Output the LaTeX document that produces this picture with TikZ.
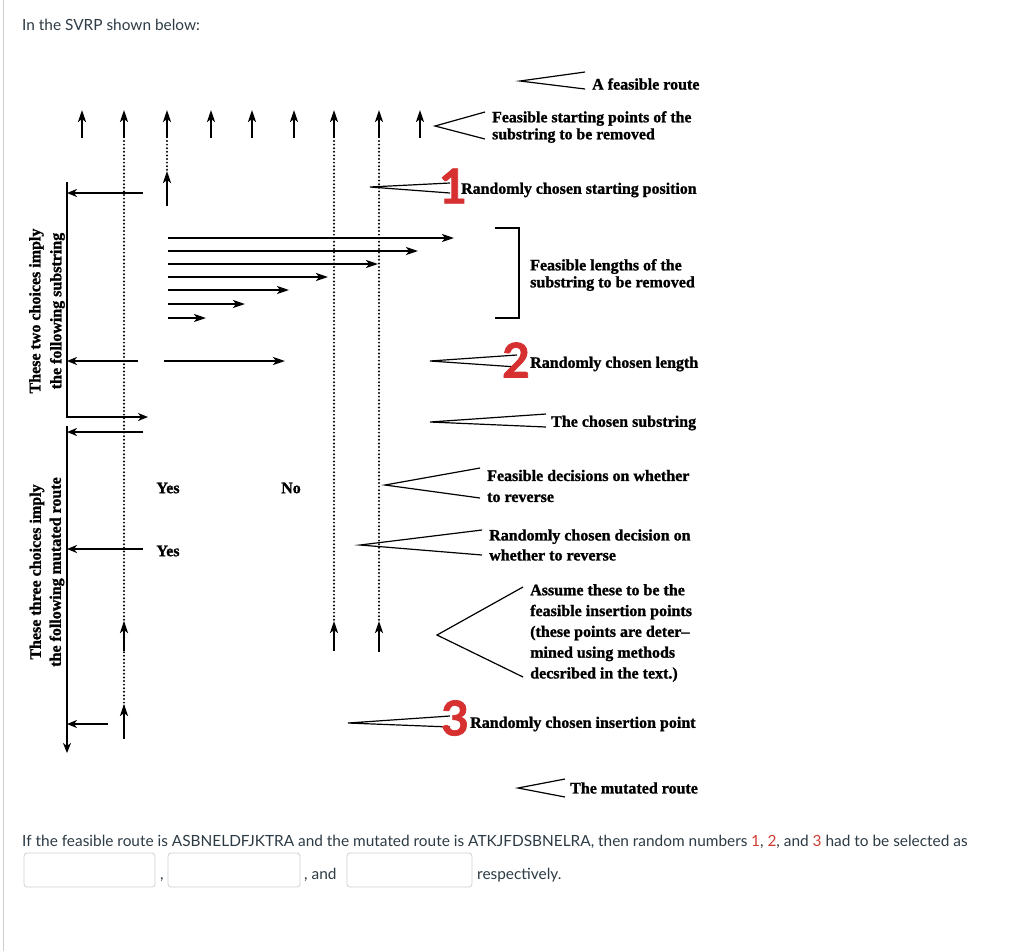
\documentclass[tikz,border=0pt]{standalone}
\usepackage{fontspec}
\setmainfont{Liberation Serif}[BoldFeatures={FakeBold=1.2}]
\newfontfamily\latofont{Lato}
\newfontfamily\latonum{Lato}[BoldFeatures={FakeBold=1.5}]
\usetikzlibrary{arrows.meta}
\definecolor{numred}{RGB}{214,48,48}
\definecolor{qred}{RGB}{205,62,52}
\definecolor{qtext}{RGB}{45,59,69}
\definecolor{boxgray}{RGB}{205,209,213}
\definecolor{edgegray}{RGB}{205,205,205}
\begin{document}
\begin{tikzpicture}[x=1pt,y=-1pt,
  arr/.style={line width=2.1pt,-{Stealth[length=12pt,width=8pt,inset=3pt]}},
  sarr/.style={line width=1.8pt,-{Stealth[length=10pt,width=8pt,inset=3pt]}},
  dotline/.style={line width=2.2pt,line cap=round,dash pattern=on 0pt off 3.6pt},
  wedge/.style={line width=1.2pt},
  lbl/.style={font=\bfseries\fontsize{16}{17}\selectfont,anchor=west,inner sep=0pt,align=left},
  bignum/.style={font=\latonum\bfseries\fontsize{48}{48}\selectfont,text=numred,inner sep=0pt},
  qtxt/.style={font=\latofont\fontsize{15.4}{18}\selectfont,text=qtext,anchor=base west,inner sep=0pt},
  ansbox/.style={draw=boxgray,line width=0.8pt,rounded corners=3pt}
]
\useasboundingbox (0,0) rectangle (1024,951);
\fill[white] (0,0) rectangle (1024,951);
\draw[edgegray,line width=1pt] (3,0) -- (3,951);

% header
\node[qtxt] (head) at (22,30) {In the SVRP shown below:};

% top row of feasible starting points
\foreach \x [count=\i] in {82,124,167,211,252,294,334,379,420}{
  \coordinate (t\i) at (\x,138);
  \coordinate (h\i) at (\x,110);
  \draw[arr] (t\i) -- (h\i);
}

% dotted lines
\coordinate (d2a) at (124,141); \coordinate (d2b) at (124,708);
\coordinate (d3a) at (167,141); \coordinate (d3b) at (167,172);
\coordinate (d7a) at (334,141); \coordinate (d7b) at (334,622);
\coordinate (d8a) at (379,141); \coordinate (d8b) at (379,622);
\draw[dotline] (d2a) -- (d2b);
\draw[dotline] (d3a) -- (d3b);
\draw[dotline] (d7a) -- (d7b);
\draw[dotline] (d8a) -- (d8b);

% chosen start arrow
\coordinate (cs0) at (167,206); \coordinate (cs1) at (167,171);
\draw[arr] (cs0) -- (cs1);

% feasible lengths arrows
\foreach \y/\e [count=\i] in {238/454,251/418,264/378,277/328,290/289,304/245,318/206}{
  \coordinate (ls\i) at (168,\y);
  \coordinate (le\i) at (\e,\y);
  \draw[arr] (ls\i) -- (le\i);
}
% chosen length arrow
\coordinate (cl0) at (164,361); \coordinate (cl1) at (285,361);
\draw[arr] (cl0) -- (cl1);

% left bracket 1
\coordinate (b1top) at (67,182); \coordinate (b1bot) at (67,417); \coordinate (b1end) at (148,417);
\draw[sarr] (b1top) -- (b1bot) -- (b1end);
\coordinate (a1s) at (143,193); \coordinate (a1e) at (67,193);
\draw[sarr] (a1s) -- (a1e);
\coordinate (a2s) at (138,361); \coordinate (a2e) at (67,361);
\draw[sarr] (a2s) -- (a2e);

% left bracket 2
\coordinate (b2top) at (67,426); \coordinate (b2bot) at (67,753);
\draw[sarr] (b2top) -- (b2bot);
\coordinate (a3s) at (143,432); \coordinate (a3e) at (67,432);
\draw[sarr] (a3s) -- (a3e);
\coordinate (a4s) at (143,549); \coordinate (a4e) at (67,549);
\draw[sarr] (a4s) -- (a4e);
\coordinate (a5s) at (108,724); \coordinate (a5e) at (67,724);
\draw[sarr] (a5s) -- (a5e);

% insertion point arrows
\foreach \x/\t/\b [count=\i] in {124/621/651,334/621/651,379/621/652,124/704/739}{
  \coordinate (ib\i) at (\x,\b); \coordinate (it\i) at (\x,\t);
  \draw[arr] (ib\i) -- (it\i);
}

% vertical texts
\node[lbl,anchor=center,align=center,rotate=90,font=\bfseries\fontsize{16}{21}\selectfont] (v1) at (47,311)
  {These two choices imply\\the following substring};
\node[lbl,anchor=center,align=center,rotate=90,font=\bfseries\fontsize{16}{20}\selectfont] (v2) at (47,572)
  {These three choices imply\\the following mutated route};

% yes / no
\node[lbl,anchor=center] (yes1) at (168,488) {Yes};
\node[lbl,anchor=center] (no1) at (291,488) {No};
\node[lbl,anchor=center] (yes2) at (168,551) {Yes};

% labels with wedges
\node[lbl] (Lroute) at (592,84) {A feasible route};
\draw[wedge] (585,72) -- (520,81) -- (585,89);

\node[lbl,font=\bfseries\fontsize{15.8}{17}\selectfont] (Lstart) at (492,127) {Feasible starting points of the\\substring to be removed};
\draw[wedge] (485,112) -- (435,126) -- (485,139);

\draw[wedge] (450,183) -- (370,187) -- (450,193);
\node[bignum] (n1) at (453,186) {1};
\node[lbl,font=\bfseries\fontsize{15.9}{17}\selectfont] (Lrstart) at (461,190) {Randomly chosen starting position};

\draw[line width=1.6pt] (495,228) -- (519,228) -- (519,318) -- (495,318);
\node[lbl] (Llen) at (530,275) {Feasible lengths of the\\substring to be removed};

\draw[wedge] (517,355) -- (430,361) -- (517,367);
\node[bignum] (n2) at (516,360) {2};
\node[lbl] (Lrlen) at (530,364) {Randomly chosen length};

\draw[wedge] (546,414) -- (430,422) -- (546,427);
\node[lbl] (Lsub) at (551,423) {The chosen substring};

\draw[wedge] (480,468) -- (385,485) -- (480,498);
\node[lbl,font=\bfseries\fontsize{16}{21}\selectfont] (Ldec) at (487,486) {Feasible decisions on whether\\to reverse};

\draw[wedge] (482,530) -- (360,545) -- (482,555);
\node[lbl,font=\bfseries\fontsize{16}{20}\selectfont] (Lrdec) at (489,545) {Randomly chosen decision on\\whether to reverse};

\draw[wedge] (523,587) -- (437,635) -- (523,677);
\node[lbl,font=\bfseries\fontsize{16}{20.8}\selectfont] (Lins) at (530,633) {Assume these to be the\\feasible insertion points\\(these points are deter--\\mined using methods\\decsribed in the text.)};

\draw[wedge] (450,716) -- (348,723) -- (450,727);
\node[bignum] (n3) at (455,718) {3};
\node[lbl] (Lrins) at (470,724) {Randomly chosen insertion point};

\draw[wedge] (565,779) -- (518,788) -- (565,797);
\node[lbl] (Lmut) at (570,788) {The mutated route};

% question
\node[qtxt] (q) at (22,846) {If the feasible route is ASBNELDFJKTRA and the mutated route is ATKJFDSBNELRA, then random numbers \textcolor{qred}{1}, \textcolor{qred}{2}, and \textcolor{qred}{3} had to be selected as};
\draw[ansbox] (24,853) rectangle (155,887);
\node[qtxt] (c1) at (160,879) {,};
\draw[ansbox] (168,853) rectangle (300,887);
\node[qtxt] (c2) at (304,879) {, and};
\draw[ansbox] (347,853) rectangle (472,887);
\node[qtxt] (resp) at (477,879) {respectively.};
\end{tikzpicture}
\end{document}
